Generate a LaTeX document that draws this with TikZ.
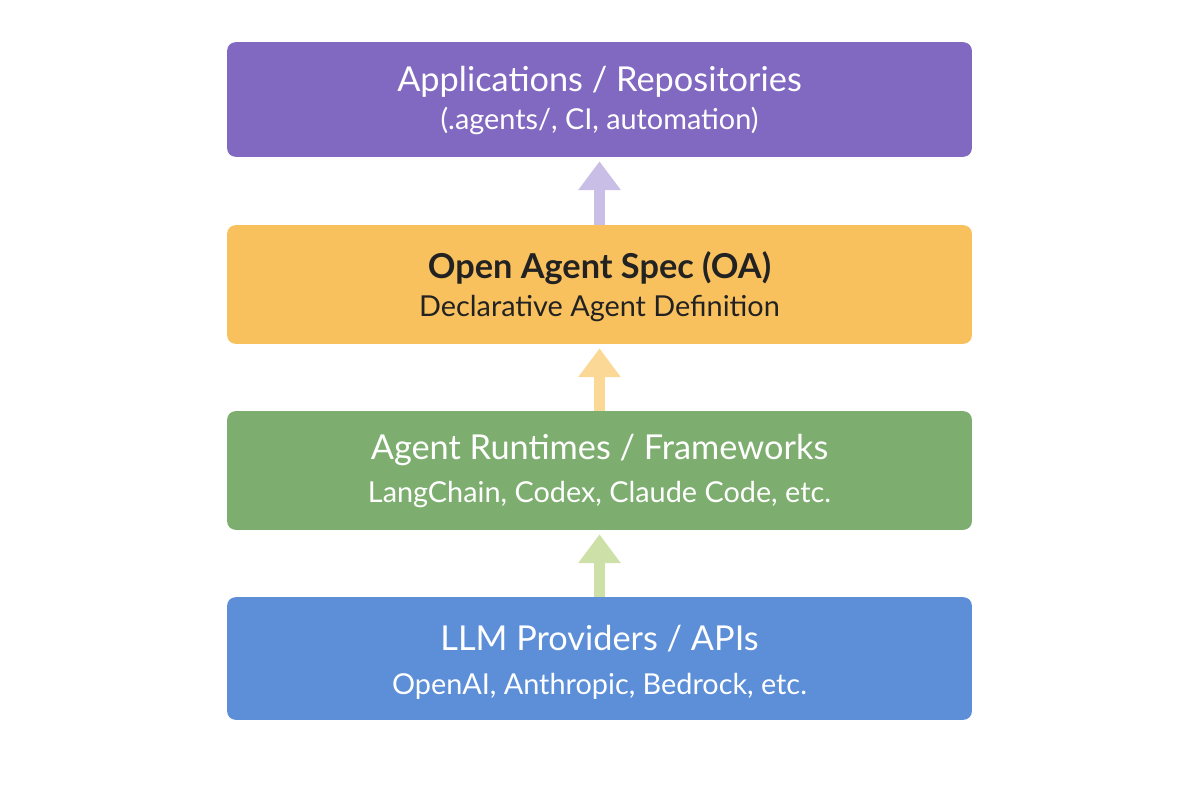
\documentclass[tikz,border=0pt]{standalone}
\usepackage{fontspec}
\setmainfont{Lato}
\usetikzlibrary{arrows.meta}

\definecolor{appfill}{HTML}{8168C0}
\definecolor{specfill}{HTML}{F9C15E}
\definecolor{runfill}{HTML}{7DAE6F}
\definecolor{llmfill}{HTML}{5C8FD8}
\definecolor{apparrow}{HTML}{C9BEE6}
\definecolor{specarrow}{HTML}{FBD896}
\definecolor{runarrow}{HTML}{CDE0A8}
\definecolor{darktext}{HTML}{222222}

\tikzset{
  layer/.style={draw=none, rounded corners=6pt, minimum width=529.6pt, inner sep=0pt},
  title/.style={font=\fontsize{24.4}{28}\selectfont, text=white},
  sub/.style={font=\fontsize{20.5}{24}\selectfont, text=white},
  uparrow/.style={line width=8.5pt, -{Triangle[width=29pt,length=20.5pt]}, shorten >=3pt},
}

\begin{document}
\begin{tikzpicture}[x=0.025cm, y=-0.025cm]
	\useasboundingbox (0,0) rectangle (1200,800);

	\node[layer, fill=appfill,  minimum height=81.5pt] (app)  at (599.5,99.5) {};
	\node[layer, fill=specfill, minimum height=84.4pt] (spec) at (599.5,284.5) {};
	\node[layer, fill=runfill,  minimum height=84.4pt] (run)  at (599.5,470.5) {};
	\node[layer, fill=llmfill,  minimum height=87.2pt] (llm)  at (599.5,658.5) {};

	\node[title] (apptitle) at (599.5,82) {Applications / Repositories};
	\node[sub]   (appsub)   at (599.5,121) {(.agents/, CI, automation)};
	\node[title, text=darktext, font=\fontsize{24.4}{28}\selectfont\bfseries] (spectitle) at (599.5,268) {Open Agent Spec (OA)};
	\node[sub, text=darktext]   (specsub)   at (599.5,309) {Declarative Agent Definition};
	\node[title] (runtitle) at (599.5,450) {Agent Runtimes / Frameworks};
	\node[sub]   (runsub)   at (599.5,495) {LangChain, Codex, Claude Code, etc.};
	\node[title] (llmtitle) at (599.5,639) {LLM Providers / APIs};
	\node[sub]   (llmsub)   at (599.5,686) {OpenAI, Anthropic, Bedrock, etc.};

	\draw [uparrow, runarrow]  (llm.north)  -- (run.south);
	\draw [uparrow, specarrow] (run.north)  -- (spec.south);
	\draw [uparrow, apparrow]  (spec.north) -- (app.south);
\end{tikzpicture}
\end{document}
